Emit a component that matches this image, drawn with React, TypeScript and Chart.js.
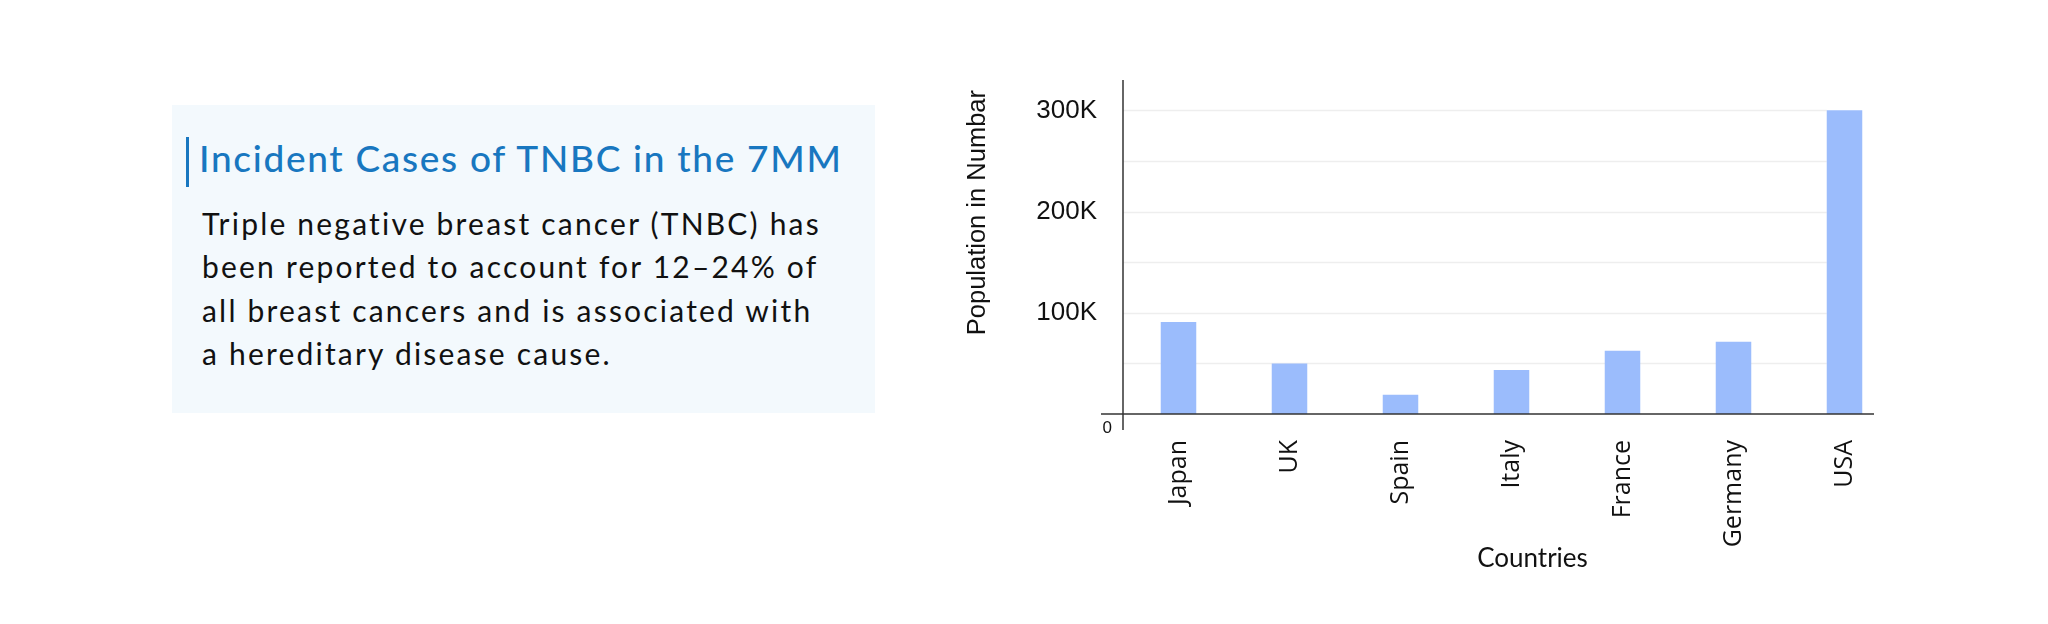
import React, { useEffect, useRef } from "react";
import { Chart, registerables } from "chart.js";

Chart.register(...registerables);

const countries = ["Japan", "UK", "Spain", "Italy", "France", "Germany", "USA"];
const incidentCases = [91000, 50000, 19000, 43500, 62500, 71500, 300000];
const yTickValues = [0, 50000, 100000, 150000, 200000, 250000, 300000];
const yTickLabels: Record<number, string> = { 100000: "100K", 200000: "200K", 300000: "300K" };
const yAxisTop = 330000;
const xTitle = "Countries";
const yTitle = "Population in Numbar";

const axisPlugin = {
  id: "customAxes",
  beforeDatasetsDraw(chart: any) {
    const { ctx, chartArea } = chart;
    const y = chart.scales.y;
    const meta = chart.getDatasetMeta(0);
    const last = meta.data[meta.data.length - 1];
    const gridEnd = last ? last.x - last.width / 2 : chartArea.right;
    ctx.save();
    ctx.strokeStyle = "#eeeeee";
    ctx.lineWidth = 1.5;
    y.ticks.forEach((t: any) => {
      if (t.value === 0) return;
      const py = Math.round(y.getPixelForValue(t.value)) + 0.5;
      ctx.beginPath();
      ctx.moveTo(chartArea.left, py);
      ctx.lineTo(gridEnd, py);
      ctx.stroke();
    });
    ctx.restore();
  },
  afterDraw(chart: any) {
    const { ctx, chartArea } = chart;
    const y = chart.scales.y;
    const x = chart.scales.x;
    const y0 = y.getPixelForValue(0);
    ctx.save();
    ctx.strokeStyle = "#333333";
    ctx.lineWidth = 1.5;
    ctx.beginPath();
    ctx.moveTo(chartArea.left, chartArea.top);
    ctx.lineTo(chartArea.left, y0 + 16);
    ctx.stroke();
    ctx.beginPath();
    ctx.moveTo(chartArea.left - 22, y0);
    ctx.lineTo(chartArea.right - 26, y0);
    ctx.stroke();
    ctx.fillStyle = "#111111";
    ctx.font = "17px 'Liberation Sans', Arial, sans-serif";
    ctx.textAlign = "right";
    ctx.textBaseline = "middle";
    ctx.fillText("0", chartArea.left - 11, y0 + 14);
    ctx.font = "26px Lato, sans-serif";
    ctx.textAlign = "center";
    ctx.fillText(xTitle, (chartArea.left + chartArea.right) / 2 + 21, x.bottom - 15.6);
    ctx.save();
    ctx.translate(y.left + 13, chartArea.top + 10);
    ctx.rotate(-Math.PI / 2);
    ctx.font = "25.5px 'Liberation Sans', Arial, sans-serif";
    ctx.textAlign = "right";
    ctx.textBaseline = "middle";
    ctx.fillText(yTitle, 0, 0);
    ctx.restore();
    ctx.restore();
  },
};

function BarChart() {
  const ref = useRef<HTMLCanvasElement | null>(null);
  useEffect(() => {
    if (!ref.current) return;
    const chart = new Chart(ref.current, {
      type: "bar",
      data: {
        labels: countries,
        datasets: [
          {
            data: incidentCases,
            backgroundColor: "#9bbcfc",
            borderWidth: 0,
            barPercentage: 0.32,
            categoryPercentage: 1,
          },
        ],
      },
      options: {
        animation: false,
        responsive: false,
        maintainAspectRatio: false,
        layout: { padding: { left: 25, right: 40, top: 80, bottom: 50 } },
        plugins: { legend: { display: false }, tooltip: { enabled: false } },
        scales: {
          x: {
            grid: { display: false, drawTicks: false },
            border: { display: false },
            afterFit: (s: any) => {
              s.height = 160;
            },
            ticks: {
              autoSkip: false,
              minRotation: 90,
              maxRotation: 90,
              padding: 26,
              color: "#111111",
              font: { family: "'Open Sans', sans-serif", size: 25 },
            },
            title: { display: false, text: xTitle },
          },
          y: {
            min: 0,
            max: yAxisTop,
            grid: { display: false, drawTicks: false },
            border: { display: false },
            afterBuildTicks: (s: any) => {
              s.ticks = yTickValues.map((v) => ({ value: v }));
            },
            afterFit: (s: any) => {
              s.width = 158;
            },
            ticks: {
              autoSkip: false,
              padding: 26,
              color: "#111111",
              font: { family: "'Liberation Sans', Arial, sans-serif", size: 26 },
              callback: (v: any) => yTickLabels[Math.round(Number(v))] ?? "",
            },
            title: { display: false, text: yTitle },
          },
        },
      },
      plugins: [axisPlugin],
    } as any);
    return () => chart.destroy();
  }, []);
  return (
    <canvas
      ref={ref}
      width={1000}
      height={624}
      style={{ position: "absolute", left: 940, top: 0, width: 1000, height: 624 }}
    />
  );
}

export default function App() {
  return (
    <div
      style={{
        position: "absolute",
        left: 0,
        top: 0,
        width: 2048,
        height: 624,
        background: "#ffffff",
        overflow: "hidden",
      }}
    >
      <div
        style={{
          position: "absolute",
          left: 172,
          top: 105,
          width: 703,
          height: 308,
          background: "#f3f9fd",
        }}
      />
      <div
        style={{
          position: "absolute",
          left: 186,
          top: 137,
          width: 3,
          height: 50,
          background: "#1877c0",
        }}
      />
      <div
        style={{
          position: "absolute",
          left: 199,
          top: 139,
          fontFamily: "Lato, sans-serif",
          fontSize: 37,
          fontWeight: 500,
          lineHeight: "37px",
          letterSpacing: "1.7px",
          color: "#1877c0",
          whiteSpace: "nowrap",
        }}
      >
        Incident Cases of TNBC in the 7MM
      </div>
      <div
        style={{
          position: "absolute",
          left: 202,
          top: 202,
          fontFamily: "Lato, sans-serif",
          fontSize: 30,
          lineHeight: "43.3px",
          letterSpacing: "2.2px",
          color: "#111111",
          whiteSpace: "nowrap",
        }}
      >
        Triple negative breast cancer (TNBC) has
        <br />
        been reported to account for 12–24% of
        <br />
        all breast cancers and is associated with
        <br />
        a hereditary disease cause.
      </div>
      <BarChart />
    </div>
  );
}
